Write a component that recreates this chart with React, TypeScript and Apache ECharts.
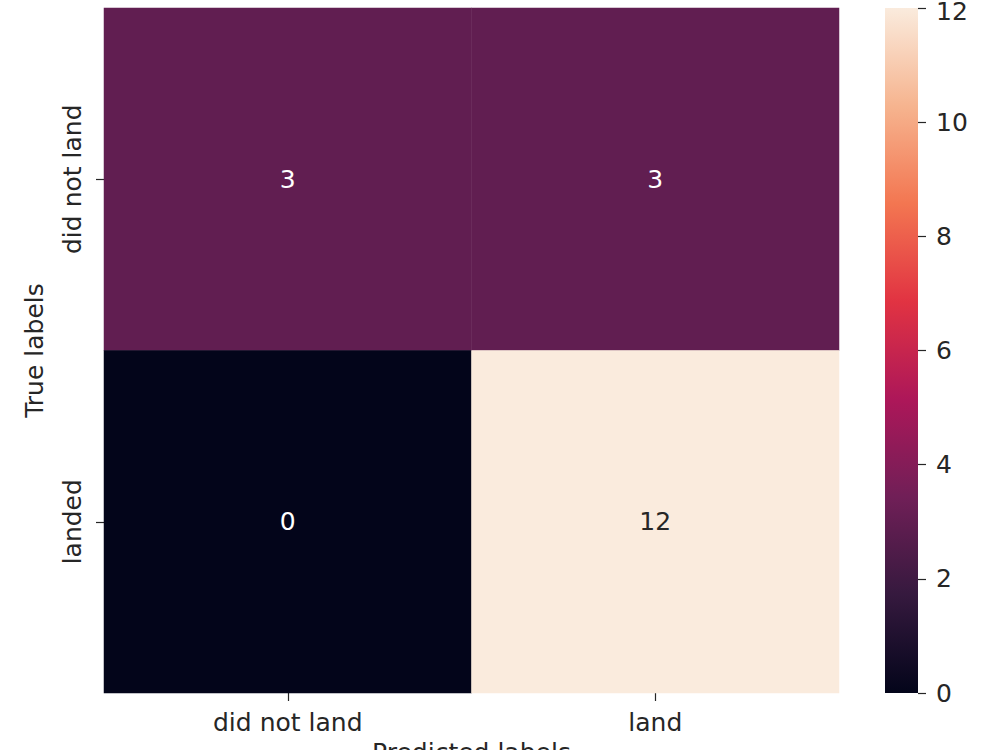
import React, { useEffect, useRef } from 'react';
import * as echarts from 'echarts';

// columns: predicted label, rows: true label
const predictedLabels = ['did not land', 'land'];
const trueLabels = ['did not land', 'landed'];
const counts = [
  [3, 3],
  [0, 12],
];

// colorbar scale
const scaleMin = 0;
const scaleMax = 12;
const scaleStep = 2;

// seaborn "rocket", evenly spaced stops
const rocket = ['#03051a', '#35193e', '#701f57', '#ad1759', '#e13342', '#f37651', '#f6b48f', '#faebdd'];

const FONT = 'DejaVu Sans';
const TEXT = '#262626';

const App: React.FC = () => {
  const chartRef = useRef<HTMLDivElement>(null);

  useEffect(() => {
    document.body.style.margin = '0';
    if (!chartRef.current) return;
    const chart = echarts.init(chartRef.current, null, { renderer: 'svg' });

    const cells = counts.flatMap((row, r) =>
      row.map((v, c) => ({
        value: [c, r, v],
        label: { color: v > (scaleMax - scaleMin) / 2 ? TEXT : '#ffffff' },
      }))
    );

    // colorbar fill: same stops as the visualMap, bottom (min) to top (max)
    const barGradient = new echarts.graphic.LinearGradient(
      0, 1, 0, 0,
      rocket.map((color, i) => ({ offset: i / (rocket.length - 1), color }))
    );

    const tick = { show: true, length: 8, lineStyle: { color: TEXT, width: 1.2 } };

    chart.setOption({
      animation: false,
      textStyle: { fontFamily: FONT },
      grid: [
        { left: 104, top: 8, width: 735, height: 685, outerBoundsMode: 'none', containLabel: false },
        {
          left: 885, top: 8, width: 33, height: 685,
          outerBoundsMode: 'none', containLabel: false,
          show: true, backgroundColor: barGradient, borderWidth: 0,
        },
      ],
      xAxis: [
        {
          type: 'category',
          data: predictedLabels,
          gridIndex: 0,
          position: 'bottom',
          axisLine: { show: false, onZero: false },
          axisTick: { ...tick, alignWithLabel: true },
          axisLabel: { color: TEXT, fontSize: 25, margin: 17, fontFamily: FONT },
          splitLine: { show: false },
          name: 'Predicted labels',
          nameLocation: 'middle',
          nameGap: 46,
          nameTextStyle: { color: TEXT, fontSize: 25, fontFamily: FONT },
        },
        {
          type: 'value',
          gridIndex: 1,
          show: false,
          min: 0,
          max: 1,
          axisLine: { show: false, onZero: false },
          axisTick: { show: false },
          axisLabel: { show: false },
          splitLine: { show: false },
        },
      ],
      yAxis: [
        {
          type: 'category',
          data: trueLabels,
          gridIndex: 0,
          inverse: true,
          axisLine: { show: false, onZero: false },
          axisTick: { ...tick, alignWithLabel: true },
          axisLabel: { color: TEXT, fontSize: 25, margin: 19, rotate: 90, fontFamily: FONT },
          splitLine: { show: false },
          name: 'True labels',
          nameLocation: 'middle',
          nameRotate: 90,
          nameGap: 57,
          nameTextStyle: { color: TEXT, fontSize: 25, fontFamily: FONT },
        },
        {
          type: 'value',
          gridIndex: 1,
          position: 'right',
          min: scaleMin,
          max: scaleMax,
          interval: scaleStep,
          axisLine: { show: false, onZero: false },
          axisTick: tick,
          axisLabel: {
            color: TEXT,
            fontSize: 25,
            margin: 18,
            fontFamily: FONT,
            // nudge the top label down a little so it stays inside the page
            formatter: (v: number) => (v === scaleMax ? `{top|${v}}` : `${v}`),
            rich: { top: { color: TEXT, fontSize: 25, fontFamily: FONT, padding: [6, 0, 0, 0] } },
          },
          splitLine: { show: false },
        },
      ],
      visualMap: {
        type: 'continuous',
        show: false,
        min: scaleMin,
        max: scaleMax,
        seriesIndex: 0,
        inRange: { color: rocket },
      },
      series: [
        {
          type: 'heatmap',
          xAxisIndex: 0,
          yAxisIndex: 0,
          data: cells,
          label: {
            show: true,
            fontSize: 25,
            fontFamily: FONT,
            formatter: (p: any) => String(p.value[2]),
          },
          itemStyle: { borderWidth: 0 },
          emphasis: { disabled: true },
        },
      ],
    });

    return () => {
      chart.dispose();
    };
  }, []);

  return <div ref={chartRef} style={{ width: '1000px', height: '750px' }} />;
};

export default App;
